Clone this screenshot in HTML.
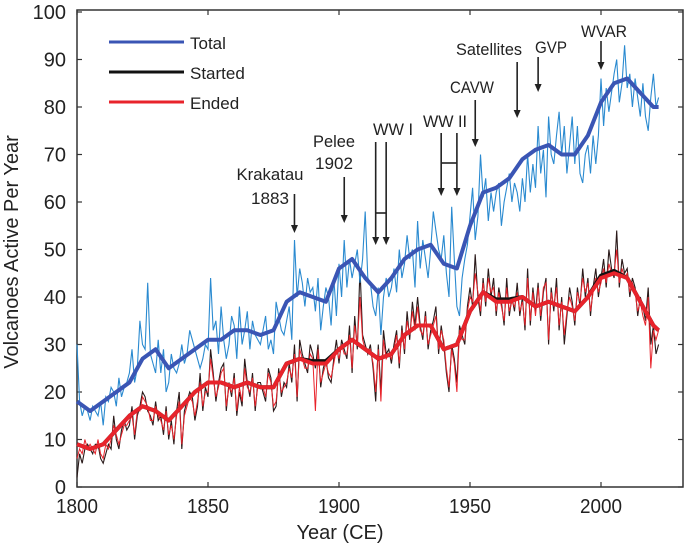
<!DOCTYPE html>
<html><head><meta charset="utf-8"><style>
body{margin:0;background:#fff;}
svg{display:block;font-family:"Liberation Sans",Arial,sans-serif;}
</style></head><body>
<svg id="chart" width="685" height="546" viewBox="0 0 685 546" xmlns="http://www.w3.org/2000/svg"></svg>
<script>
const startYear = 1800;
const totalAnnual = [30,18,15,17,16,14,17,16,15,18, 13,19,18,21,20,17,23,19,21,22, 24,29,22,25,35,30,29,43,28,26, 24,31,24,29,20,22,28,25,24,26, 30,26,28,33,31,29,27,25,27,30, 29,44,33,35,28,38,31,27,30,36, 34,27,38,30,33,37,29,35,32,31, 30,33,36,29,31,28,39,36,33,32, 35,38,31,52,40,46,43,38,44,41, 42,37,44,33,38,42,40,34,44,36, 47,40,52,42,48,44,47,50,43,48, 58,44,43,38,36,42,32,40,44,40, 42,46,41,50,44,47,53,48,50,42, 56,46,52,48,44,50,58,54,50,48, 53,45,40,59,48,38,36,44,48,51, 57,63,52,57,70,61,65,56,62,58, 62,64,55,60,63,66,60,64,62,58, 65,60,70,62,68,63,76,66,71,61, 78,70,68,74,79,70,76,66,72,78, 68,76,66,64,70,72,66,74,68,74, 86,76,84,79,83,87,90,81,85,93, 84,87,80,86,82,78,85,78,75,82, 87,80,82];
const startedAnnual = [2,7,5,8,9,8,7,9,9,6, 5,7,9,8,15,10,8,12,14,12, 13,17,10,15,17,20,19,16,15,13, 18,14,15,11,17,10,14,9,16,20, 8,16,18,20,19,14,17,24,16,21, 19,29,24,18,22,25,26,16,22,19, 24,15,20,17,27,22,19,24,16,22, 22,20,18,25,23,16,17,25,19,22, 21,26,22,30,18,31,28,26,24,30, 28,25,30,21,25,27,23,22,27,31, 26,31,29,27,34,24,36,29,46,32, 30,28,30,25,18,30,20,33,28,29, 26,30,33,25,34,28,37,31,39,34, 40,34,31,37,29,33,35,38,28,34, 30,24,20,30,27,22,34,32,30,38, 42,38,49,40,36,44,38,46,40,44, 36,42,39,34,44,36,40,37,43,36, 40,33,46,34,42,37,43,35,41,44, 30,42,37,44,33,40,30,36,42,39, 34,42,38,46,40,44,36,42,46,40, 44,48,42,50,46,44,54,42,48,45, 46,40,44,42,36,40,38,35,42,30, 34,28,30];
const endedAnnual = [6,8,7,10,8,9,8,7,10,7, 6,9,8,10,13,11,9,11,13,13, 14,15,11,16,16,19,18,17,14,14, 17,15,14,12,16,11,13,10,15,18, 9,15,17,19,18,15,18,22,17,20, 20,27,23,19,21,24,25,17,21,20, 23,16,21,18,25,21,20,23,17,21, 21,21,19,24,22,17,18,24,20,21, 22,25,23,28,19,29,27,25,25,28, 27,16,29,22,24,26,24,23,26,29, 27,30,28,28,32,25,34,30,40,31, 29,29,29,26,20,29,18,31,27,28, 27,29,32,26,33,29,35,32,37,33, 38,33,32,36,30,32,34,36,29,33, 31,25,21,29,26,20,33,31,31,37, 40,39,45,41,37,43,39,44,41,42, 37,41,38,35,42,37,39,38,41,37, 39,34,44,35,41,36,42,36,42,43, 31,41,38,42,34,39,32,37,40,38, 35,41,39,44,41,43,37,41,44,41, 43,46,43,47,45,45,50,43,46,44, 45,41,43,41,37,39,36,34,40,25, 33,31,33];
const smoothYears = [1800,1805,1810,1815,1820,1825,1830,1835,1840,1845,1850,1855,1860,1865,1870,1875,1880,1885,1890,1895,1900,1905,1910,1915,1920,1925,1930,1935,1940,1945,1950,1955,1960,1965,1970,1975,1980,1985,1990,1995,2000,2005,2010,2015,2020,2022];
const totalSmooth = [18,16,18,20,22,27,29,25,27,29,31,31,33,33,32,33,39,41,40,39,46,48,44,41,44,48,50,51,47,46,55,62,63,65,69,71,72,70,70,74,81,85,86,83,80,80];
const startedSmooth = [9,8,9,12,15,17,16,14,17,20,22,22,21,22,21,21,26,27,26.5,26.5,29,31,29,27,28,32,34,34,29,30,37,41,39.5,39.5,40,38,39,38,37,40,44.5,45.5,44,39,34,33];
const endedSmooth = [9,8,9,12,15,17,16,14,17,20,22,22,21,22,21,21,26,27,26,26,29,31,29,27,28,32,34,34,29,30,37,41,39,39,40,38,39,38,37,40,44,45,44,39,34,33];
const xTicks = [1800,1850,1900,1950,2000];
const yTicks = [0,10,20,30,40,50,60,70,80,90,100];
const events = [
 {label:["Krakatau","1883"], year:1883},
 {label:["Pelee","1902"], year:1902},
 {label:["CAVW"], year:1952},
 {label:["Satellites"], year:1968},
 {label:["GVP"], year:1976},
 {label:["WVAR"], year:2000}
];

const NS="http://www.w3.org/2000/svg";
const svg=document.getElementById('chart');
const L=77,R=683,T=10,B=487;
function X(yr){return 77+(yr-1800)*2.62;}
function Y(v){return 487-v*4.75;}
function mk(tag,attrs,parent){const e=document.createElementNS(NS,tag);for(const k in attrs)e.setAttribute(k,attrs[k]);(parent||svg).appendChild(e);return e;}
function pts(years,vals){return vals.map((v,i)=>X(years[i]).toFixed(1)+','+Y(v).toFixed(1)).join(' ');}
const annYears=totalAnnual.map((_,i)=>startYear+i);

const frame=mk('rect',{x:L,y:T,width:R-L,height:B-T,fill:'none',stroke:'#333','stroke-width':1.5});



const gx=mk('g',{});


xTicks.forEach(t=>{
  mk('line',{x1:X(t),x2:X(t),y1:B,y2:B-5,stroke:'#333','stroke-width':1.2},gx);
  mk('line',{x1:X(t),x2:X(t),y1:T,y2:T+5,stroke:'#333','stroke-width':1.2},gx);
  const tx=mk('text',{x:X(t),y:513,'text-anchor':'middle','font-size':20,fill:'#222',textLength:42,lengthAdjust:'spacingAndGlyphs'},gx);
  tx.textContent=t;
  
  
});
const xt=mk('text',{x:340,y:539,'text-anchor':'middle','font-size':20,fill:'#222'});
xt.textContent='Year (CE)';



const gy=mk('g',{});


yTicks.forEach(t=>{
  mk('line',{x1:L,x2:L+5,y1:Y(t),y2:Y(t),stroke:'#333','stroke-width':1.2},gy);
  mk('line',{x1:R,x2:R-5,y1:Y(t),y2:Y(t),stroke:'#333','stroke-width':1.2},gy);
  const tx=mk('text',{x:66,y:Y(t)+7,'text-anchor':'end','font-size':20,fill:'#222'},gy);
  tx.textContent=t;
  
  
});
const yt=mk('text',{x:0,y:0,'text-anchor':'middle','font-size':20,fill:'#222',transform:'translate(18,252) rotate(-90)'});
yt.textContent='Volcanoes Active Per Year';



const s1=mk('polyline',{points:pts(annYears,startedAnnual),fill:'none',stroke:'#2a1a1a','stroke-width':1.1});


const s2=mk('polyline',{points:pts(annYears,endedAnnual),fill:'none',stroke:'#e8232b','stroke-width':1});


const s3=mk('polyline',{points:pts(annYears,totalAnnual),fill:'none',stroke:'#2a8ad0','stroke-width':1.1});


const s4=mk('polyline',{points:pts(smoothYears,startedSmooth),fill:'none',stroke:'#111','stroke-width':4,'stroke-linejoin':'round'});


const s5=mk('polyline',{points:pts(smoothYears,endedSmooth),fill:'none',stroke:'#e8232b','stroke-width':4,'stroke-linejoin':'round'});


const s6=mk('polyline',{points:pts(smoothYears,totalSmooth),fill:'none',stroke:'#3a55b4','stroke-width':4,'stroke-linejoin':'round'});



const lg=mk('g',{});


[['Total','#3a55b4',45],['Started','#111',75],['Ended','#e8232b',105]].forEach(([n,c,y])=>{
  mk('line',{x1:109,x2:184,y1:y-3,y2:y-3,stroke:c,'stroke-width':3},lg);
  const t=mk('text',{x:190,y:y+4,'font-size':17,fill:'#222'},lg);
  t.textContent=n;
  
  
});

function arrow(x,y1,y2,g){
  mk('line',{x1:x,x2:x,y1:y1,y2:y2-6,stroke:'#222','stroke-width':1.6},g);
  mk('polygon',{points:`${x-3.5},${y2-8} ${x+3.5},${y2-8} ${x},${y2}`,fill:'#222'},g);
}
const ann=[
 {ty:[180,204],y1:194,y2:233,tx:[270,270],w:[67,38]},
 {ty:[147,169],y1:177,y2:223,tx:[334,334],w:[42,38]},
 {ty:[93],y1:100,y2:147,tx:[472],w:[44]},
 {ty:[55],y1:62,y2:118,tx:[489],w:[66]},
 {ty:[53],y1:57,y2:92,tx:[551],w:[32]},
 {ty:[37],y1:41,y2:70,tx:[604],w:[46]}
];
events.forEach((e,i)=>{
  const a=ann[i];
  const g=mk('g',{});
  
  
  e.label.forEach((s,j)=>{const t=mk('text',{x:a.tx[j],y:a.ty[j],'text-anchor':'middle','font-size':17,fill:'#222',textLength:a.w[j],lengthAdjust:'spacingAndGlyphs'},g);t.textContent=s;});
  arrow(X(e.year),a.y1,a.y2,g);
});
[['WW I',1914,1918,135,142,245,213,393,40],['WW II',1939,1945,127,133,196,163,445,44]].forEach(([n,a,b,ty,y1,y2,hy,cx,w])=>{
  const g=mk('g',{});
  
  
  const t=mk('text',{x:cx,y:ty,'text-anchor':'middle','font-size':17,fill:'#222',textLength:w,lengthAdjust:'spacingAndGlyphs'},g);t.textContent=n;
  arrow(X(a),y1,y2,g);arrow(X(b),y1,y2,g);
  mk('line',{x1:X(a),x2:X(b),y1:hy,y2:hy,stroke:'#222','stroke-width':1.6},g);
});
</script>
</body></html>
